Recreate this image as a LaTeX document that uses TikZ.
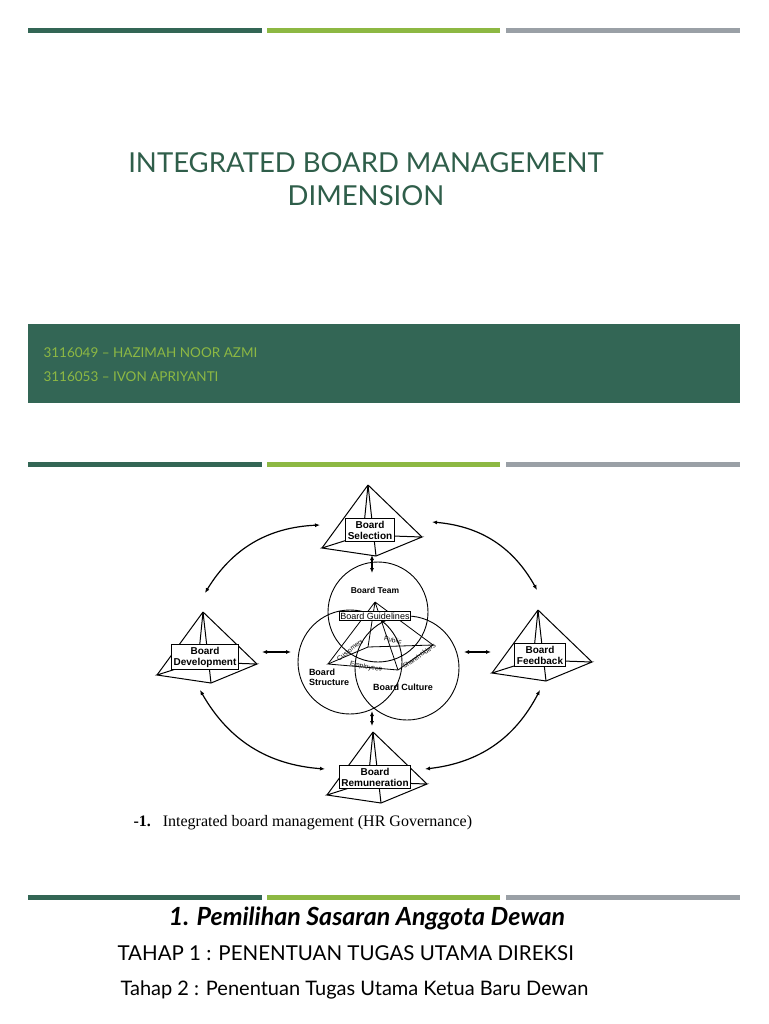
\documentclass[tikz,border=0pt]{standalone}
\usepackage{fontspec}
\setmainfont{Lato}
\newfontfamily\arialf{Liberation Sans}
\newfontfamily\timesf{Liberation Serif}
\usetikzlibrary{arrows.meta}
\definecolor{dkg}{HTML}{336655}
\definecolor{ttl}{HTML}{2F5E4A}
\definecolor{lime}{HTML}{8DB843}
\definecolor{gry}{HTML}{9AA0A6}
\tikzset{
 bar/.style={line width=5pt},
 lab/.style={draw,fill=white,font=\arialf\bfseries\fontsize{10}{11}\selectfont,align=center,inner sep=2pt,line width=0.9pt},
 pyr/.style={line width=1pt},
 darr/.style={{Latex[length=5pt,width=4pt]}-{Latex[length=5pt,width=4pt]},line width=1.2pt},
 tiny/.style={font=\arialf\fontsize{6.5}{7}\selectfont,inner sep=0.3pt}
}
\newcommand\mypyr[4]{% apex x, apex y, label, name
 \begin{scope}[shift={(#1,#2)},pyr]
  \draw (-46,63)--(8,71)--(54,52)--(-5,50)--cycle;
  \draw (0,0)--(-46,63) (0,0)--(8,71) (0,0)--(54,52) (0,0)--(-5,50);
  \node[lab] (#4) at (2,45) {#3};
 \end{scope}}
\begin{document}
\begin{tikzpicture}[x=1pt,y=-1pt]
\useasboundingbox (0,0) rectangle (768,1024);
\foreach \y/\n in {31/a,464/b,897/c}{
 \draw[bar,dkg] (28,\y)--(262,\y);
 \draw[bar,lime] (267,\y)--(500,\y);
 \draw[bar,gry] (506,\y)--(740,\y);}
\node[text=ttl,font=\fontsize{27.5}{33}\selectfont,align=center] (title) at (366,179) {INTEGRATED BOARD MANAGEMENT\\DIMENSION};
\fill[dkg] (28,324) rectangle (740,403);
\node[anchor=west,text=lime,font=\fontsize{13.5}{15}\selectfont] (n1) at (40,353) {3116049 -- HAZIMAH NOOR AZMI};
\node[anchor=west,text=lime,font=\fontsize{13.5}{15}\selectfont] (n2) at (40,377) {3116053 -- IVON APRIYANTI};
% venn
\draw[line width=0.9pt] (378,612) circle (50);
\draw[line width=0.9pt] (350,662) circle (52);
\draw[line width=0.9pt] (407,668) circle (52);
\node[font=\arialf\bfseries\fontsize{8.5}{9}\selectfont] (team) at (375,590) {Board Team};
\begin{scope}[line width=0.8pt]
\draw (328,664)--(398,670)--(433,645)--(368,647)--cycle;
\draw (375,602)--(328,664) (375,602)--(398,670) (375,602)--(433,645) (375,602)--(368,647);
\end{scope}
\node[lab,font=\arialf\fontsize{9}{9}\selectfont,line width=0.6pt,inner sep=1pt] (guide) at (375,616) {Board Guidelines};
\node[tiny,rotate=38] (cust) at (350,650) {Customers};
\node[tiny,rotate=-10] (pub) at (393,640) {Public};
\node[tiny,rotate=-10] (emp) at (366,667) {Employees};
\node[tiny,rotate=35] (sh) at (419,656) {Shareholders};
\node[font=\arialf\bfseries\fontsize{9}{10}\selectfont,align=left] (str) at (329,677) {Board\\Structure};
\node[font=\arialf\bfseries\fontsize{9}{10}\selectfont] (cul) at (403,687) {Board Culture};
% pyramids
\mypyr{368}{485}{Board\\Selection}{sel}
\mypyr{203}{612}{Board\\Development}{dev}
\mypyr{538}{610}{Board\\Feedback}{fb}
\mypyr{373}{732}{Board\\Remuneration}{rem}
\coordinate (s1) at (320,525); \coordinate (d1) at (205,593);
\coordinate (s2) at (432,522); \coordinate (f1) at (537,590);
\coordinate (d2) at (200,690); \coordinate (r1) at (325,769);
\coordinate (f2) at (540,690); \coordinate (r2) at (425,769);
\draw[darr] (s1) to[bend right=28] (d1);
\draw[darr] (s2) to[bend left=28] (f1);
\draw[darr] (d2) to[bend right=28] (r1);
\draw[darr] (f2) to[bend left=28] (r2);
\coordinate (v1) at (372,555); \coordinate (v2) at (372,573);
\coordinate (v3) at (372,711); \coordinate (v4) at (372,726);
\coordinate (h1) at (262,652); \coordinate (h2) at (291,652);
\coordinate (h3) at (464,652); \coordinate (h4) at (491,652);
\draw[darr] (v1)--(v2); \draw[darr] (v3)--(v4);
\draw[darr] (h1)--(h2); \draw[darr] (h3)--(h4);
\node[anchor=west,font=\timesf\fontsize{16}{18}\selectfont] (cap) at (130,823) {\textbf{-1.}\hspace{12pt}Integrated board management (HR Governance)};
\node[font=\bfseries\itshape\fontsize{25}{28}\selectfont] (h) at (367,918) {1. Pemilihan Sasaran Anggota Dewan};
\node[anchor=west,font=\fontsize{20.5}{23}\selectfont] (t1) at (114,953) {TAHAP 1 : PENENTUAN TUGAS UTAMA DIREKSI};
\node[anchor=west,font=\fontsize{20}{23}\selectfont] (t2) at (117,990) {Tahap 2 : Penentuan Tugas Utama Ketua Baru Dewan};
\end{tikzpicture}
\end{document}
